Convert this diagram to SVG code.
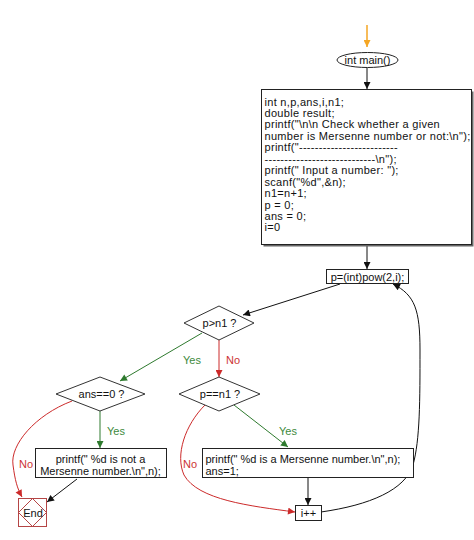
<svg xmlns="http://www.w3.org/2000/svg" width="474" height="540" viewBox="0 0 474 540">
<defs>
<style>
text{font-family:"Liberation Sans",Arial,sans-serif;font-size:11px;fill:#111}
.c{text-anchor:middle}
.big text{letter-spacing:0.3px}
.box{fill:#fff;stroke:#222;stroke-width:1}
.dia{fill:#fff;stroke:#333;stroke-width:1}
.k{fill:none;stroke:#111;stroke-width:1}
.g{fill:none;stroke:#2e7a2e;stroke-width:1}
.r{fill:none;stroke:#cc2a2a;stroke-width:1}
.o{fill:none;stroke:#f5a623;stroke-width:1.5}
.gl{fill:#3d8a3d}
.rl{fill:#cc3333}
</style>
<marker id="ak" viewBox="0 0 10 10" refX="10" refY="5" markerWidth="9" markerHeight="7" markerUnits="userSpaceOnUse" orient="auto"><path d="M0,0L10,5L0,10z" fill="#111"/></marker>
<marker id="ag" viewBox="0 0 10 10" refX="10" refY="5" markerWidth="9" markerHeight="7" markerUnits="userSpaceOnUse" orient="auto"><path d="M0,0L10,5L0,10z" fill="#2e7a2e"/></marker>
<marker id="ar" viewBox="0 0 10 10" refX="10" refY="5" markerWidth="9" markerHeight="7" markerUnits="userSpaceOnUse" orient="auto"><path d="M0,0L10,5L0,10z" fill="#cc2a2a"/></marker>
<marker id="ao" viewBox="0 0 10 10" refX="10" refY="5" markerWidth="9" markerHeight="7" markerUnits="userSpaceOnUse" orient="auto"><path d="M0,0L10,5L0,10z" fill="#f5a623"/></marker>
</defs>
<rect width="474" height="540" fill="#fff"/>

<g id="connectors">
<line class="o" x1="367" y1="25" x2="367" y2="47" marker-end="url(#ao)"/>
<line class="k" x1="367" y1="68" x2="367" y2="89" marker-end="url(#ak)"/>
<line class="k" x1="367" y1="246" x2="367" y2="269" marker-end="url(#ak)"/>
<line class="k" x1="340" y1="284" x2="243" y2="315" marker-end="url(#ak)"/>
<line class="r" x1="219" y1="340" x2="219" y2="377" marker-end="url(#ar)"/>
<text class="rl" x="226" y="364">No</text>
<line class="g" x1="202" y1="333" x2="120" y2="381" marker-end="url(#ag)"/>
<text class="gl" x="183" y="364">Yes</text>
<line class="g" x1="100" y1="411" x2="100" y2="448" marker-end="url(#ag)"/>
<text class="gl" x="107" y="435">Yes</text>
<path class="r" d="M72,401 C35,415 10,445 13,465 C15,480 17,488 22,497" marker-end="url(#ar)"/>
<text class="rl" x="19" y="468">No</text>
<line class="k" x1="77" y1="479" x2="47" y2="502" marker-end="url(#ak)"/>
<line class="g" x1="234" y1="405" x2="288" y2="447" marker-end="url(#ag)"/>
<text class="gl" x="279" y="435">Yes</text>
<line class="k" x1="308" y1="477" x2="308" y2="505" marker-end="url(#ak)"/>
<path class="r" d="M205,405 C185,425 175,455 184,475 C198,500 250,506 295,512" marker-end="url(#ar)"/>
<text class="rl" x="183" y="468">No</text>
<path class="k" d="M321,512 C370,505 405,490 413,465 C420,440 420,400 420,350 C420,310 415,295 393,284" marker-end="url(#ak)"/>
</g>

<g id="start">
<ellipse class="box" cx="367.5" cy="60" rx="30.5" ry="7.5"/>
<text class="c" x="367.5" y="64">int main()</text>
</g>

<g id="init" class="big">
<rect x="263.5" y="91.5" width="210" height="155" fill="#666"/>
<rect class="box" x="261.5" y="89.5" width="210" height="155"/>
<text x="264.5" y="105.5">int n,p,ans,i,n1;</text>
<text x="264.5" y="116.9">double result;</text>
<text x="264.5" y="128.4">printf("\n\n Check whether a given</text>
<text x="264.5" y="139.8">number is Mersenne number or not:\n");</text>
<text x="264.5" y="151.3">printf("-------------------------</text>
<text x="264.5" y="162.7">----------------------------\n");</text>
<text x="264.5" y="174.1">printf(" Input a number: ");</text>
<text x="264.5" y="185.6">scanf("%d",&amp;n);</text>
<text x="264.5" y="197">n1=n+1;</text>
<text x="264.5" y="208.5">p = 0;</text>
<text x="264.5" y="219.9">ans = 0;</text>
<text x="264.5" y="231.3">i=0</text>
</g>

<g id="pow">
<rect class="box" x="326.5" y="269.5" width="82" height="14"/>
<text class="c" x="367.5" y="280.5">p=(int)pow(2,i);</text>
</g>

<g id="cond1">
<polygon class="dia" points="184,323 219,306 254,323 219,340"/>
<text class="c" x="219.5" y="327">p&gt;n1 ?</text>
</g>

<g id="cond2">
<polygon class="dia" points="179,394 219,377 260,394 219,411"/>
<text class="c" x="220" y="398">p==n1 ?</text>
</g>

<g id="cond3">
<polygon class="dia" points="56,394 100,377 145,394 100,411"/>
<text class="c" x="101.5" y="398">ans==0 ?</text>
</g>

<g id="notmersenne">
<rect class="box" x="35.5" y="448.5" width="131" height="29"/>
<text class="c" x="100.5" y="463">printf(" %d is not a</text>
<text class="c" x="100.5" y="475">Mersenne number.\n",n);</text>
</g>

<g id="mersenne">
<rect class="box" x="202.5" y="448.5" width="211" height="29"/>
<text x="205.5" y="463">printf(" %d is a Mersenne number.\n",n);</text>
<text x="205.5" y="475">ans=1;</text>
</g>

<g id="inc">
<rect class="box" x="295.5" y="505.5" width="26" height="15"/>
<text class="c" x="308.5" y="516.5">i++</text>
</g>

<g id="end">
<rect x="18.5" y="498.5" width="28" height="28" fill="#fff" stroke="#b54545"/>
<polygon points="32.5,498.5 46.5,512.5 32.5,526.5 18.5,512.5" fill="none" stroke="#b54545"/>
<text class="c" x="33" y="516.5">End</text>
</g>
</svg>
